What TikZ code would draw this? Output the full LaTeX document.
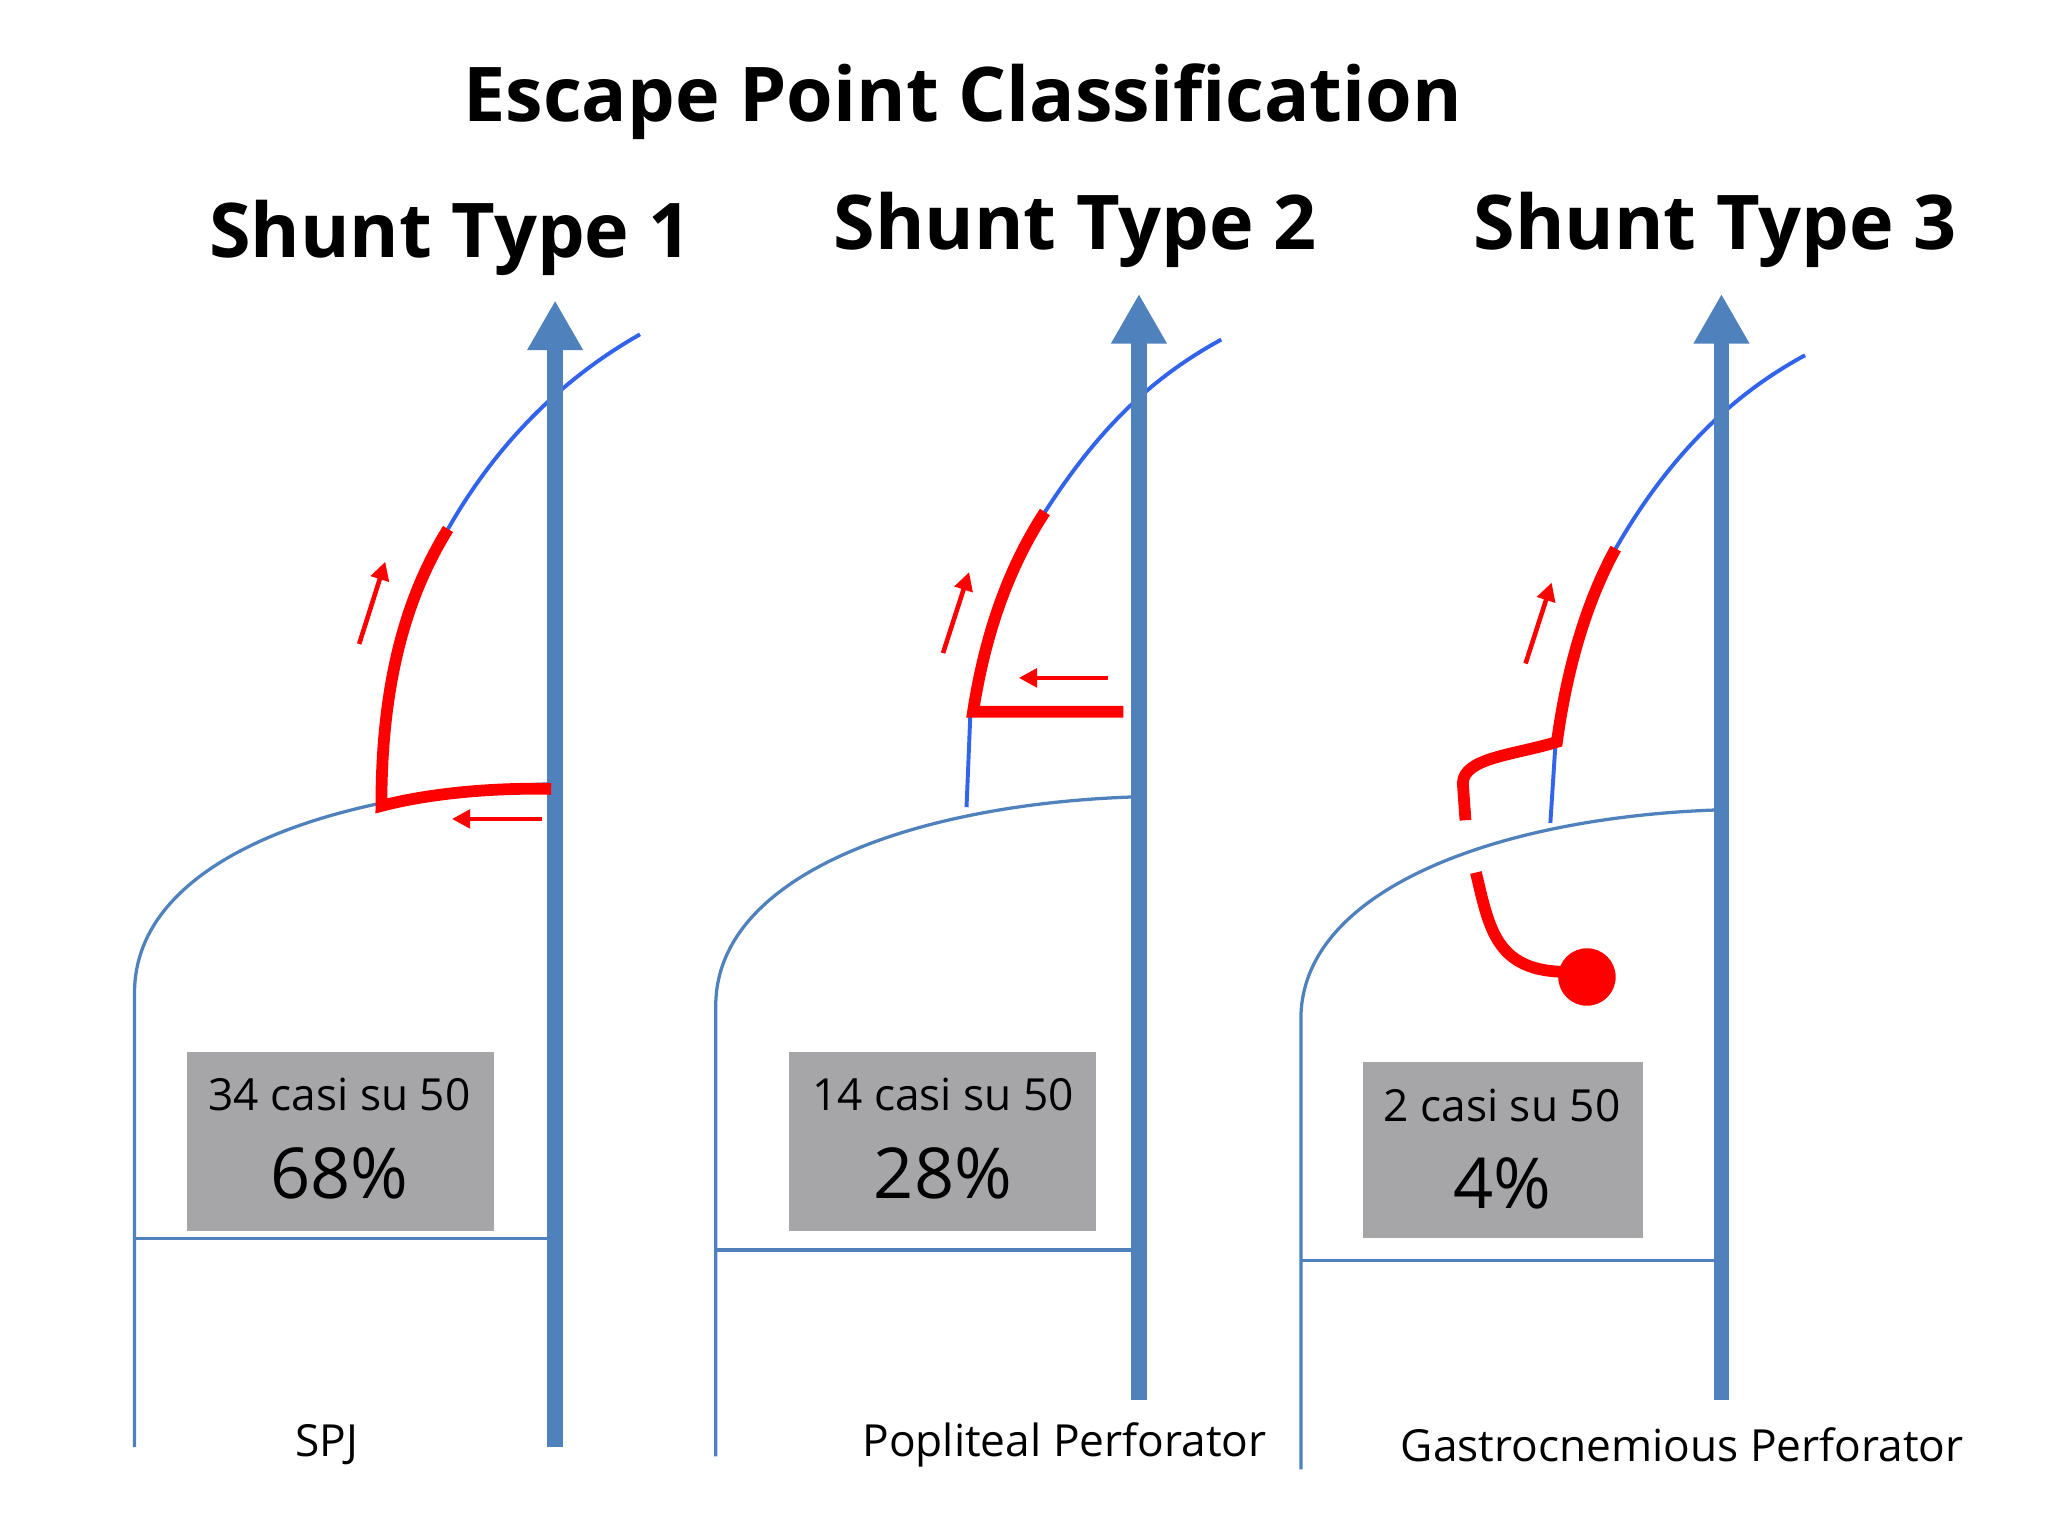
\documentclass[tikz,border=0pt]{standalone}
\usepackage{fontspec}
\setmainfont{Open Sans}
\usetikzlibrary{arrows.meta}
\definecolor{vein}{RGB}{79,129,189}
\definecolor{thinblue}{RGB}{50,100,235}
\definecolor{boxg}{RGB}{166,166,168}
\tikzset{
 mainvein/.style={vein,line width=12bp,-{Triangle[length=38bp,width=40bp]}},
 outline/.style={vein,line width=2.5bp},
 thinv/.style={thinblue,line width=3bp},
 reflux/.style={red,line width=9bp},
 smallarr/.style={red,line width=3.5bp,-{Triangle[length=14bp,width=14bp]}},
 stat/.style={fill=boxg,anchor=north west,inner sep=0pt},
 ttl/.style={font=\fontsize{58}{64}\selectfont\bfseries},
 lbl/.style={font=\fontsize{34}{38}\selectfont},
 pct/.style={font=\fontsize{54}{60}\selectfont},
}
\begin{document}
\begin{tikzpicture}[x=1bp,y=-1bp]
\useasboundingbox (0,0) rectangle (1568,1176);
\node[ttl] (title) at (737,78) {Escape Point Classification};
\node[ttl] (t1) at (345,182) {Shunt Type 1};
\node[ttl] (t2) at (823,176) {Shunt Type 2};
\node[ttl] (t3) at (1313,176) {Shunt Type 3};
% Panel 1
\coordinate (a1b) at (425,1108); \coordinate (a1t) at (425,230);
\draw[outline] (103,1108) -- (103,760) .. controls (103,660) and (250,605) .. (425,600);
\draw[outline] (103,948) -- (425,948);
\draw[thinv] (292,618) .. controls (292,520) and (312,455) .. (343,405) .. controls (380,340) and (430,290) .. (490,256);
\draw[mainvein] (a1b) -- (a1t);
\draw[reflux] (343,405) .. controls (312,455) and (292,520) .. (292,617) .. controls (330,607) and (380,603) .. (422,604);
\draw[smallarr] (415,627) -- (346,627);
\draw[smallarr] (275,493) -- (295,430);
\node[stat,minimum width=235bp,minimum height=137bp] (b1) at (143,805) {};
\node[lbl] (c1) at (260,838) {34 casi su 50};
\node[pct] (p1) at (260,898) {68\%};
\node[lbl] (l1) at (250,1106) {SPJ};
% Panel 2
\coordinate (a2b) at (872,1072); \coordinate (a2t) at (872,225);
\draw[outline] (548,1115) -- (548,770) .. controls (548,670) and (700,615) .. (872,610);
\draw[outline] (548,957) -- (872,957);
\draw[thinv] (740,618) -- (743,545) .. controls (755,480) and (775,430) .. (800,392) .. controls (840,330) and (880,290) .. (935,260);
\draw[mainvein] (a2b) -- (a2t);
\draw[reflux] (800,392) .. controls (775,430) and (755,480) .. (745,545) -- (860,545);
\draw[smallarr] (848,519) -- (780,519);
\draw[smallarr] (722,500) -- (742,438);
\node[stat,minimum width=235bp,minimum height=137bp] (b2) at (604,805) {};
\node[lbl] (c2) at (722,838) {14 casi su 50};
\node[pct] (p2) at (722,898) {28\%};
\node[lbl] (l2) at (815,1106) {Popliteal Perforator};
% Panel 3
\coordinate (a3b) at (1318,1072); \coordinate (a3t) at (1318,225);
\draw[outline] (996,1125) -- (996,780) .. controls (996,680) and (1150,625) .. (1318,620);
\draw[outline] (996,965) -- (1318,965);
\draw[thinv] (1187,630) -- (1191,568) .. controls (1200,510) and (1215,460) .. (1237,420) .. controls (1280,345) and (1330,300) .. (1382,272);
\draw[mainvein] (a3b) -- (a3t);
\draw[reflux] (1237,420) .. controls (1215,460) and (1200,510) .. (1192,568) .. controls (1160,578) and (1120,580) .. (1120,600) -- (1122,628);
\draw[reflux] (1130,668) .. controls (1140,710) and (1145,742) .. (1195,744);
\fill[red] (1215,748) circle (22);
\draw[smallarr] (1168,508) -- (1188,446);
\node[stat,minimum width=215bp,minimum height=135bp] (b3) at (1043,813) {};
\node[lbl] (c3) at (1150,846) {2 casi su 50};
\node[pct] (p3) at (1150,906) {4\%};
\node[lbl] (l3) at (1288,1106) {Gastrocnemious Perforator};
\end{tikzpicture}
\end{document}
